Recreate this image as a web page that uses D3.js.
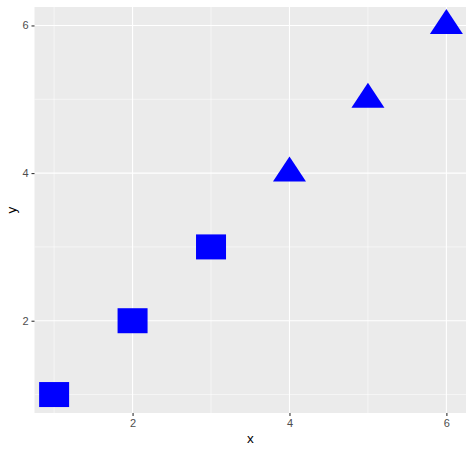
<!DOCTYPE html>
<html><head><meta charset="utf-8">
<script src="https://cdn.jsdelivr.net/npm/d3@7"></script>
<style>body{margin:0;background:#fff;}svg{display:block;font-family:"Liberation Sans",Arial,sans-serif;}</style>
</head><body>
<svg id="c" width="474" height="452"></svg>
<script>
const xs = [1, 2, 3, 4, 5, 6];
const ys = [1, 2, 3, 4, 5, 6];
const shapes = ["square", "square", "square", "triangle", "triangle", "triangle"];
const majorTicks = [2, 4, 6];
const minorTicks = [1, 3, 5];

const svg = d3.select("#c");
const L = 34.5, R = 466, T = 7, B = 413;
const x = d3.scaleLinear().domain([0.75, 6.25]).range([L, R]);
const y = d3.scaleLinear().domain([0.75, 6.25]).range([B, T]);

svg.append("rect").attr("x", L).attr("y", T).attr("width", R - L).attr("height", B - T).attr("fill", "#ebebeb");
const g = svg.append("g");
minorTicks.forEach(v => {
  g.append("line").attr("x1", x(v)).attr("x2", x(v)).attr("y1", T).attr("y2", B).attr("stroke", "#fff").attr("stroke-width", 0.55);
  g.append("line").attr("y1", y(v)).attr("y2", y(v)).attr("x1", L).attr("x2", R).attr("stroke", "#fff").attr("stroke-width", 0.55);
});
majorTicks.forEach(v => {
  g.append("line").attr("x1", x(v)).attr("x2", x(v)).attr("y1", T).attr("y2", B).attr("stroke", "#fff").attr("stroke-width", 1.1);
  g.append("line").attr("y1", y(v)).attr("y2", y(v)).attr("x1", L).attr("x2", R).attr("stroke", "#fff").attr("stroke-width", 1.1);
});

const xAxis = svg.append("g").attr("transform", `translate(0,${B})`)
  .call(d3.axisBottom(x).tickValues(majorTicks).tickSize(3).tickPadding(3).tickFormat(d3.format("d")));
const yAxis = svg.append("g").attr("transform", `translate(${L},0)`)
  .call(d3.axisLeft(y).tickValues(majorTicks).tickSize(3).tickPadding(3).tickFormat(d3.format("d")));
[xAxis, yAxis].forEach(a => {
  a.select(".domain").remove();
  a.selectAll(".tick line").attr("stroke", "#333").attr("stroke-width", 1.1);
  a.selectAll(".tick text").attr("fill", "#4d4d4d").attr("font-size", "11px").attr("font-family", "Liberation Sans, Arial, sans-serif");
});

svg.append("text").attr("x", (L + R) / 2).attr("y", 443).attr("text-anchor", "middle")
  .attr("font-size", "13.5px").attr("fill", "#000").text("x");
svg.append("text").attr("transform", `translate(16,${(T + B) / 2}) rotate(-90)`).attr("text-anchor", "middle")
  .attr("font-size", "13.5px").attr("fill", "#000").text("y");

const pts = xs.map((v, i) => ({x: v, y: ys[i], s: shapes[i]}));
const sqW = 30, sqH = 25, trW = 33, trH = 23;
svg.selectAll("rect.pt").data(pts.filter(d => d.s === "square")).join("rect").attr("class", "pt")
  .attr("x", d => x(d.x) - sqW / 2).attr("y", d => y(d.y) - sqH / 2)
  .attr("width", sqW).attr("height", sqH).attr("fill", "#0000ff");
svg.selectAll("path.pt").data(pts.filter(d => d.s === "triangle")).join("path").attr("class", "pt")
  .attr("d", d => {
    const cx = x(d.x), cy = y(d.y) - 3;
    return `M${cx},${cy - trH / 2 - 2}L${cx + trW / 2},${cy + trH / 2}L${cx - trW / 2},${cy + trH / 2}Z`;
  })
  .attr("fill", "#0000ff");
</script>
</body></html>
